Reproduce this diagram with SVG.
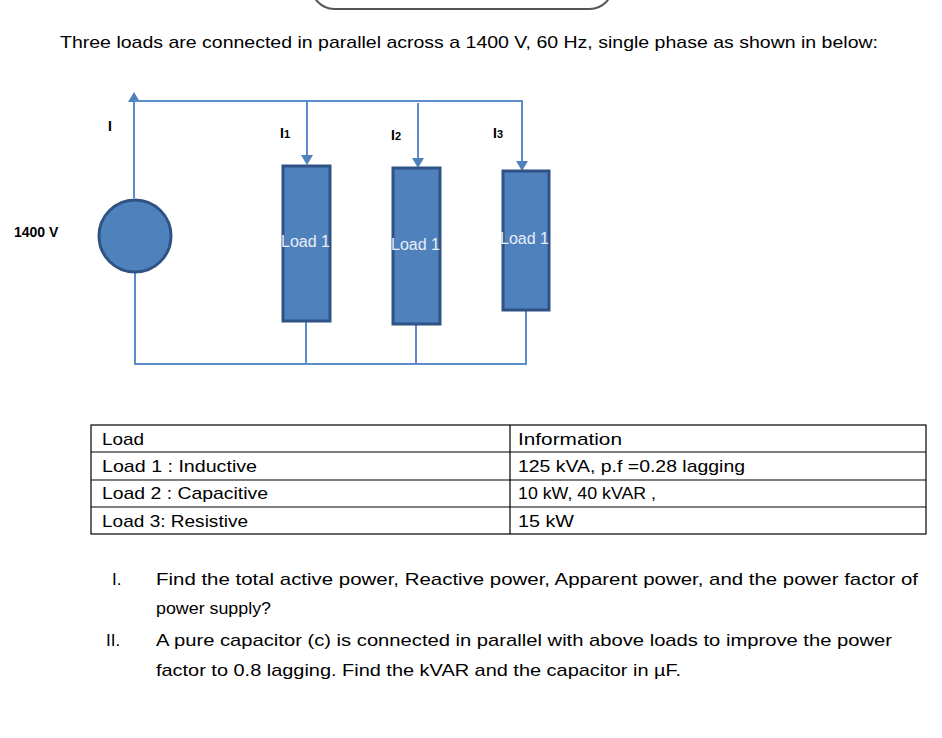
<svg xmlns="http://www.w3.org/2000/svg" width="942" height="738" viewBox="0 0 942 738">
<style>
text{font-family:"Liberation Sans",Arial,sans-serif;fill:#000}
.t{font-size:17px}
.w{stroke:#5b8ccc;stroke-width:2;fill:none}
.ld{fill:#4f81bd;stroke:#2f5384;stroke-width:3}
.lt{fill:#e8eef8;font-size:16px}
.b{font-weight:bold;font-size:14px}
.g{stroke:#000;stroke-width:1.2;fill:none}
</style>
<rect x="312" y="-40" width="300" height="49" rx="22" fill="none" stroke="#555" stroke-width="2"/>
<text class="t" x="60" y="48" textLength="818" lengthAdjust="spacingAndGlyphs">Three loads are connected in parallel across a 1400 V, 60 Hz, single phase as shown in below:</text>
<g id="wires">
<path class="w" d="M134,198V102"/>
<path d="M134,92l-6,10h12z" fill="#4f81bd"/>
<path class="w" d="M134,101H522V163M307,101V156M418,103V160"/>
<path d="M301,155h12l-6,10z M412,158h12l-6,10z M516,161h12l-6,10z" fill="#4f81bd"/>
<path class="w" d="M135,272V364H527M306,322V364M416,324V364M526,310V364"/>
</g>
<g id="source"><circle cx="135" cy="236" r="36" fill="#4f81bd" stroke="#2f5384" stroke-width="3"/></g>
<g id="load1"><rect class="ld" x="283" y="166" width="47" height="155"/><text class="lt" x="281" y="247">Load 1</text></g>
<g id="load2"><rect class="ld" x="393" y="168" width="47" height="156"/><text class="lt" x="391" y="250">Load 1</text></g>
<g id="load3"><rect class="ld" x="503" y="171" width="46" height="139"/><text class="lt" x="500" y="244">Load 1</text></g>
<text class="b" x="108" y="131" font-size="15">I</text>
<text class="b" x="280" y="138" font-size="15">I<tspan font-size="11">1</tspan></text>
<text class="b" x="391" y="140" font-size="15">I<tspan font-size="11">2</tspan></text>
<text class="b" x="493" y="138" font-size="15">I<tspan font-size="11">3</tspan></text>
<text class="b" x="14" y="237">1400 V</text>
<g id="table">
<rect class="g" x="91" y="425" width="835" height="109"/>
<path class="g" d="M91,452H926M91,480H926M91,507H926M510,425V534"/>
<text class="t" x="102" y="445" textLength="42" lengthAdjust="spacingAndGlyphs">Load</text>
<text class="t" x="102" y="472" textLength="155" lengthAdjust="spacingAndGlyphs">Load 1 : Inductive</text>
<text class="t" x="102" y="499" textLength="166" lengthAdjust="spacingAndGlyphs">Load 2 : Capacitive</text>
<text class="t" x="102" y="527" textLength="146" lengthAdjust="spacingAndGlyphs">Load 3: Resistive</text>
<text class="t" x="518" y="445" textLength="104" lengthAdjust="spacingAndGlyphs">Information</text>
<text class="t" x="518" y="472" textLength="227" lengthAdjust="spacingAndGlyphs">125 kVA, p.f =0.28 lagging</text>
<text class="t" x="518" y="499" textLength="138" lengthAdjust="spacingAndGlyphs">10 kW, 40 kVAR ,</text>
<text class="t" x="518" y="527" textLength="56" lengthAdjust="spacingAndGlyphs">15 kW</text>
</g>
<text class="t" x="112" y="585">I.</text>
<text class="t" x="156" y="585" textLength="762" lengthAdjust="spacingAndGlyphs">Find the total active power, Reactive power, Apparent power, and the power factor of</text>
<text class="t" x="156" y="614" textLength="115" lengthAdjust="spacingAndGlyphs">power supply?</text>
<text class="t" x="106" y="646">II.</text>
<text class="t" x="156" y="646" textLength="736" lengthAdjust="spacingAndGlyphs">A pure capacitor (c) is connected in parallel with above loads to improve the power</text>
<text class="t" x="156" y="676" textLength="525" lengthAdjust="spacingAndGlyphs">factor to 0.8 lagging. Find the kVAR and the capacitor in µF.</text>
</svg>
